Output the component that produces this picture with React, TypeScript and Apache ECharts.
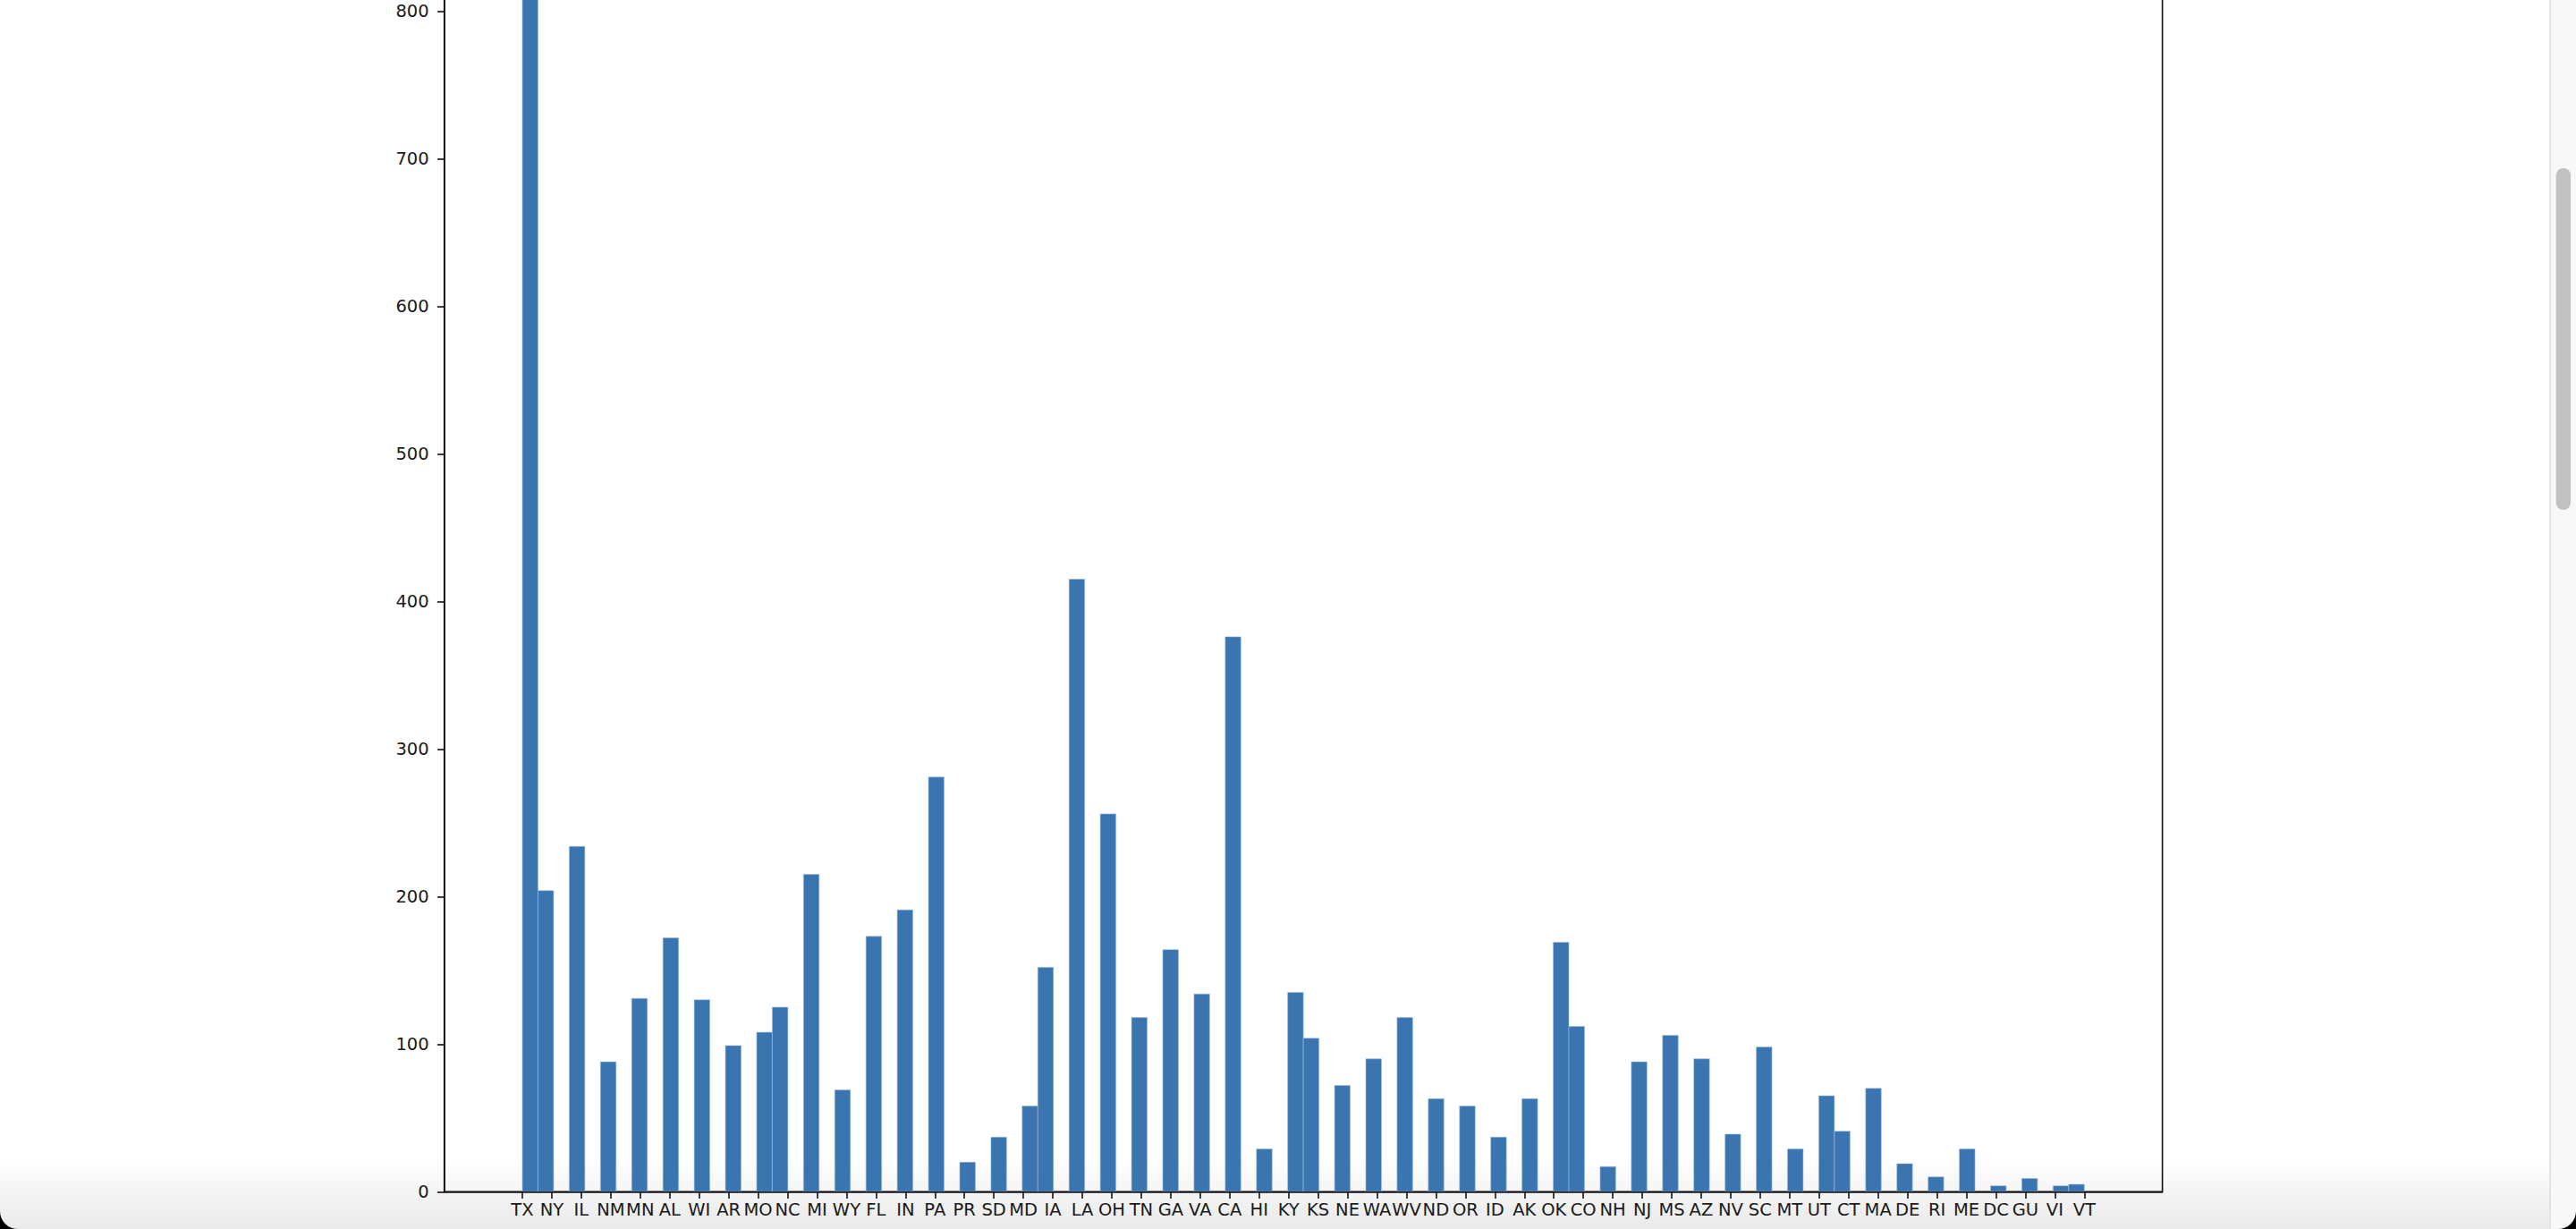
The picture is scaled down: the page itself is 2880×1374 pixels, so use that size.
import React, { useEffect, useRef } from "react";
import * as echarts from "echarts";

// ---- data ----
const states: string[] = [
  "TX", "NY", "IL", "NM", "MN", "AL", "WI", "AR", "MO", "NC",
  "MI", "WY", "FL", "IN", "PA", "PR", "SD", "MD", "IA", "LA",
  "OH", "TN", "GA", "VA", "CA", "HI", "KY", "KS", "NE", "WA",
  "WV", "ND", "OR", "ID", "AK", "OK", "CO", "NH", "NJ", "MS",
  "AZ", "NV", "SC", "MT", "UT", "CT", "MA", "DE", "RI", "ME",
  "DC", "GU", "VI", "VT",
];
const counts: number[] = [
  880, 204, 234, 88, 131, 172, 130, 99, 108, 125,
  215, 69, 173, 191, 281, 20, 37, 58, 152, 415,
  256, 118, 164, 134, 376, 29, 135, 104, 72, 90,
  118, 63, 58, 37, 63, 169, 112, 17, 88, 106,
  90, 39, 98, 29, 65, 41, 70, 19, 10, 29,
  4, 9, 4, 5,
];
const yTickStep = 100;
const yLastVisibleTick = 800; // ticks above this lie beyond the top of the page
const BIN_COUNT = 100;

// ---- histogram binning (weighted, like matplotlib hist on category positions) ----
const lo = 0;
const hi = states.length - 1;
const binWidth = (hi - lo) / BIN_COUNT;
const binTotals: number[] = new Array(BIN_COUNT).fill(0);
states.forEach((_, i) => {
  let b = Math.floor(((i - lo) * BIN_COUNT) / (hi - lo));
  if (b >= BIN_COUNT) b = BIN_COUNT - 1;
  binTotals[b] += counts[i];
});
const barData = binTotals
  .map((v, k) => [lo + k * binWidth, lo + (k + 1) * binWidth, v])
  .filter((d) => d[2] > 0);

const yMax = Math.max(...counts) * 1.05;
const xPad = (hi - lo) * 0.05;
const tickIdx = states.map((_, i) => i);

const BAR_COLOR = "#3a75b0";
const INK = "#111111";
const FONT = "DejaVu Sans";

// the plot's top lies above the visible page; the canvas is shifted up by this much
const OFFSET = 240;

let shapesRegistered = false;
function registerShapes() {
  if (shapesRegistered) return;
  shapesRegistered = true;
  echarts.graphic.registerShape(
    "cornerBL",
    echarts.graphic.extendPath("M0 0 L0 20 L20 20 A20 20 0 0 1 0 0 Z", {})
  );
  echarts.graphic.registerShape(
    "cornerBR",
    echarts.graphic.extendPath("M20 0 L20 20 L0 20 A20 20 0 0 0 20 0 Z", {})
  );
}

export default function App() {
  const ref = useRef<HTMLDivElement>(null);

  useEffect(() => {
    if (!ref.current) return;
    registerShapes();
    const chart = echarts.init(ref.current, undefined, { renderer: "svg" });
    const H = (ref.current.clientHeight || 1374 + OFFSET) - OFFSET; // visible height
    const W = ref.current.clientWidth || 2880;
    const axisBottomY = 1332.3;
    const pxPerUnit = 1.65;

    chart.setOption({
      animation: false,
      backgroundColor: "#ffffff",
      grid: {
        show: true,
        left: 496.7,
        right: W - 2417.6,
        bottom: H - axisBottomY,
        top: axisBottomY + OFFSET - yMax * pxPerUnit,
        borderColor: INK,
        borderWidth: 1.6,
        backgroundColor: "transparent",
        containLabel: false,
      },
      xAxis: {
        type: "value",
        min: lo - xPad,
        max: hi + xPad,
        axisLine: { show: true, onZero: false, lineStyle: { color: INK, width: 1.6 } },
        axisTick: {
          show: true,
          customValues: tickIdx,
          length: 7.7,
          lineStyle: { color: INK, width: 1.6 },
        },
        axisLabel: {
          show: true,
          customValues: tickIdx,
          interval: 0,
          hideOverlap: false,
          formatter: (v: number) => states[Math.round(v)] ?? "",
          fontFamily: FONT,
          fontSize: 19.5,
          color: "#1a1a1a",
          margin: 10,
        },
        splitLine: { show: false },
      },
      yAxis: {
        type: "value",
        min: 0,
        max: yMax,
        interval: yTickStep,
        axisLine: { show: true, onZero: false, lineStyle: { color: INK, width: 1.6 } },
        axisTick: { show: true, length: 7.7, lineStyle: { color: INK, width: 1.6 } },
        axisLabel: {
          show: true,
          showMaxLabel: false,
          formatter: (v: number) => (v > yLastVisibleTick ? "" : String(v)),
          fontFamily: FONT,
          fontSize: 19.5,
          color: "#1a1a1a",
          margin: 17,
        },
        splitLine: { show: false },
      },
      series: [
        {
          type: "custom",
          encode: { x: [0, 1], y: 2 },
          data: barData,
          clip: true,
          renderItem: (params: any, api: any) => {
            const x0 = api.value(0);
            const x1 = api.value(1);
            const v = api.value(2);
            const p0 = api.coord([x0, 0]);
            const p1 = api.coord([x1, v]);
            return {
              type: "rect",
              shape: {
                x: p0[0],
                y: p1[1],
                width: p1[0] - p0[0],
                height: p0[1] - p1[1],
              },
              style: { fill: BAR_COLOR, stroke: "#9fbcdc", lineWidth: 0.6 },
            };
          },
        },
      ],
      graphic: [
        {
          type: "rect",
          silent: true,
          z: -1,
          shape: { x: 0, y: OFFSET + H - 80, width: W, height: 80 },
          style: {
            fill: new echarts.graphic.LinearGradient(0, 0, 0, 1, [
              { offset: 0, color: "rgba(0,0,0,0)" },
              { offset: 1, color: "rgba(0,0,0,0.085)" },
            ]),
          },
        },
        {
          type: "rect",
          silent: true,
          shape: { x: W - 29, y: 0, width: 29, height: OFFSET + H },
          style: { fill: "#f8f8f8" },
        },
        {
          type: "line",
          silent: true,
          shape: { x1: W - 29, y1: 0, x2: W - 29, y2: OFFSET + H },
          style: { stroke: "#e3e3e3", lineWidth: 2 },
        },
        {
          type: "rect",
          silent: true,
          shape: { x: W - 22.3, y: OFFSET + 188, width: 16.3, height: 382, r: 8 },
          style: { fill: "#c1c1c1" },
        },
        {
          type: "cornerBL",
          silent: true,
          x: 0,
          y: OFFSET + H - 20,
          style: { fill: "#000000" },
        },
        {
          type: "cornerBR",
          silent: true,
          x: W - 20,
          y: OFFSET + H - 20,
          style: { fill: "#000000" },
        },
      ],
    });

    return () => {
      chart.dispose();
    };
  }, []);

  return (
    <div style={{ position: "fixed", left: 0, top: 0, width: "100vw", height: "100vh", overflow: "hidden" }}>
      <div
        ref={ref}
        style={{
          position: "absolute",
          left: 0,
          top: -OFFSET,
          width: "100%",
          height: `calc(100% + ${OFFSET}px)`,
        }}
      />
    </div>
  );
}
